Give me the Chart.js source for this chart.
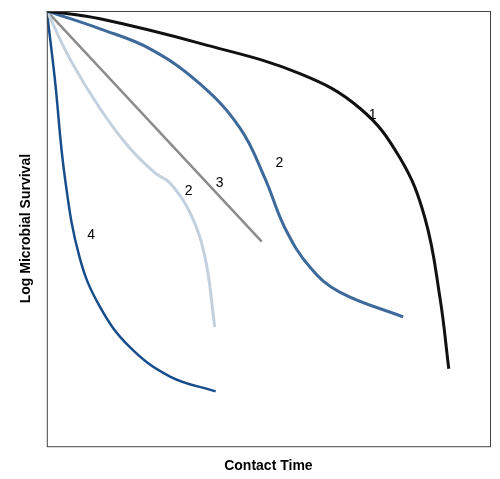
<!DOCTYPE html>
<html><head><meta charset="utf-8">
<script src="https://cdn.jsdelivr.net/npm/chart.js@4"></script>
<style>body{margin:0;background:#fff}#wrap{width:500px;height:479px}</style>
</head><body><div id="wrap"><canvas id="c"></canvas></div>
<script>
// curves (x = contact time, y = log survival, both 0-100)
const curve1 = [[0,100],[12,98.2],[34.8,92.5],[57.1,85.6],[70.7,77.6],[79.7,66.2],[85.3,52.5],[88.7,34.2],[90.7,17.8]];
const curve2 = [[0,100],[12,95.9],[23.3,91.3],[34.5,83.3],[43.6,73.1],[49.2,61.6],[53.7,50.2],[59.4,41.1],[66.1,35.4],[80.4,29.7]];
const curve2b = [[0,100],[5.2,89],[12,77.6],[18.7,68.5],[24.4,62.8],[27.8,60.5],[32.3,53.7],[35.7,43.4],[37.9,27.4]];
const curve3 = [[0,100],[48.5,47]];
const curve4 = [[0,100],[1.8,84.5],[4.1,61.6],[7.4,43.4],[12,32],[18.7,22.8],[27.8,16],[38.1,12.6]];
const labels = [["1",73.5,76],["2",52.5,65],["2",32,58.5],["3",39,60.5],["4",10,48.5]];

const pts = a => a.map(([x,y]) => ({x,y}));
const ds = (d,color,w) => ({data:pts(d),borderColor:color,borderWidth:w,pointRadius:0,tension:0.4,fill:false});

const labelPlugin = {
  id:'lbl',
  afterDatasetsDraw(chart){
    const {ctx,scales:{x,y}} = chart;
    ctx.save();
    ctx.font = '14px "Liberation Sans", Arial';
    ctx.fillStyle = '#000';
    ctx.textAlign = 'center'; ctx.textBaseline = 'middle';
    labels.forEach(([t,lx,ly]) => ctx.fillText(t, x.getPixelForValue(lx), y.getPixelForValue(ly)));
    ctx.restore();
  }
};
const boxPlugin = {
  id:'box',
  afterDraw(chart){
    const {ctx,chartArea:a} = chart;
    ctx.save(); ctx.strokeStyle='#444'; ctx.lineWidth=1;
    ctx.strokeRect(a.left+0.5,a.top+0.5,a.right-a.left,a.bottom-a.top);
    ctx.restore();
  }
};

new Chart(document.getElementById('c'), {
  type:'line',
  data:{datasets:[
    ds(curve1,'#111',3),
    ds(curve2,'#3d6a9b',3),
    ds(curve2b,'#c3d0de',3),
    ds(curve3,'#8c8c8c',2.5),
    ds(curve4,'#184d8c',2.5)
  ]},
  options:{
    responsive:true, maintainAspectRatio:false, animation:false,
    layout:{padding:{top:11,right:10,left:14,bottom:0}},
    plugins:{legend:{display:false},tooltip:{enabled:false}},
    scales:{
      x:{type:'linear',min:0,max:100,grid:{display:false},border:{display:false},ticks:{display:false},
         title:{display:true,text:'Contact Time',font:{family:'"Liberation Sans", Arial',size:14,weight:'bold'},color:'#000'}},
      y:{min:0,max:100,grid:{display:false},border:{display:false},ticks:{display:false},
         title:{display:true,text:'Log Microbial Survival',font:{family:'"Liberation Sans", Arial',size:14,weight:'bold'},color:'#000'}}
    }
  },
  plugins:[labelPlugin,boxPlugin]
});
</script></body></html>
